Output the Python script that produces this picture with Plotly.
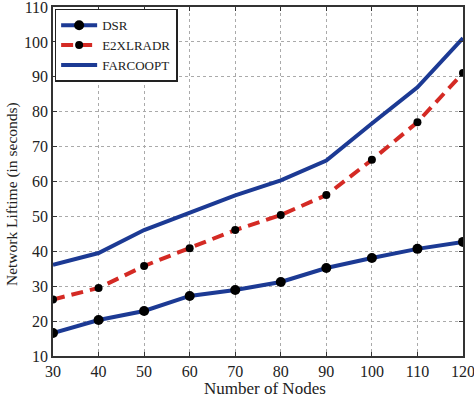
import plotly.graph_objects as go

nodes = [30, 40, 50, 60, 70, 80, 90, 100, 110, 120]
dsr = [16.6, 20.3, 22.9, 27.2, 28.9, 31.2, 35.2, 38.1, 40.7, 42.7]
e2xlradr = [26.2, 29.5, 35.8, 40.9, 46.1, 50.4, 56.1, 66.2, 77.0, 91.1]
farcoopt = [36.1, 39.5, 46.1, 51.0, 56.0, 60.3, 66.0, 76.6, 87.0, 101.1]
x_ticks = nodes
y_ticks = [10, 20, 30, 40, 50, 60, 70, 80, 90, 100, 110]

BLUE = "#1c3a94"
RED = "#d42a24"
FONT = "Liberation Serif"

fig = go.Figure()
fig.add_trace(go.Scatter(x=nodes, y=dsr, name="DSR", mode="lines+markers",
                         line=dict(color=BLUE, width=4),
                         marker=dict(color="black", size=10)))
fig.add_trace(go.Scatter(x=nodes, y=e2xlradr, name="E2XLRADR", mode="lines+markers",
                         line=dict(color=RED, width=4, dash="12px,7px"),
                         marker=dict(color="black", size=8)))
fig.add_trace(go.Scatter(x=nodes, y=farcoopt, name="FARCOOPT", mode="lines",
                         line=dict(color=BLUE, width=4)))

axis_common = dict(showline=True, linecolor="#333", linewidth=1.5, mirror="ticks",
                   ticks="inside", ticklen=4, tickcolor="#333",
                   showgrid=True, gridcolor="#aaa", griddash="dot", gridwidth=1,
                   zeroline=False, automargin=False, ticklabeloverflow="allow",
                   tickfont=dict(family=FONT, size=16, color="#222"))

fig.update_xaxes(range=[30, 120], tickvals=x_ticks, **axis_common)
fig.update_yaxes(range=[10, 110], tickvals=y_ticks, **axis_common)

fig.add_annotation(text="Number of Nodes", xref="paper", yref="paper",
                   x=0.5, xshift=7, y=0, yshift=-32, xanchor="center", yanchor="middle",
                   showarrow=False, font=dict(family=FONT, size=17, color="#222"))
fig.add_annotation(text="Network Liftime (in seconds)", xref="paper", yref="paper",
                   x=0, xshift=-41, y=0.464, xanchor="center", yanchor="middle",
                   textangle=-90, showarrow=False,
                   font=dict(family=FONT, size=15.5, color="#222"))

fig.update_layout(width=474, height=398,
                  margin=dict(l=53, r=11, t=7, b=42),
                  plot_bgcolor="white", paper_bgcolor="white",
                  font=dict(family=FONT, color="#222"),
                  legend=dict(x=0.004, y=0.995, xanchor="left", yanchor="top",
                              bordercolor="#222", borderwidth=1.5, bgcolor="white",
                              font=dict(family=FONT, size=13, color="#222"),
                              itemwidth=36, tracegroupgap=0))

fig.write_html("out.html", config={"displayModeBar": False},
               post_script="document.body.style.margin='0';document.body.style.overflow='hidden';")
